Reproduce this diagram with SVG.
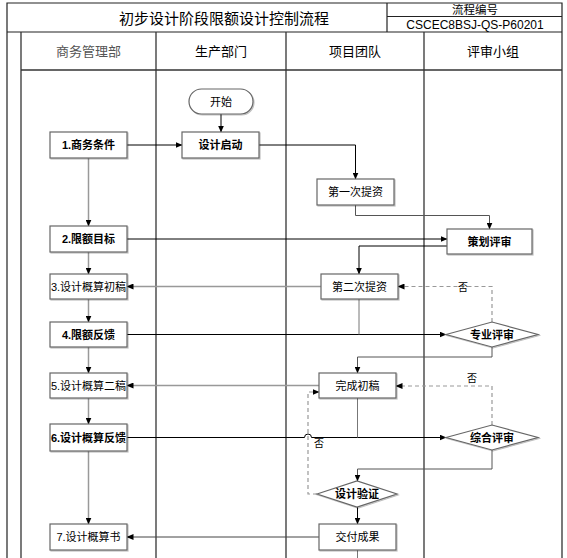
<svg xmlns="http://www.w3.org/2000/svg" width="567" height="558" viewBox="0 0 567 558">
<defs>
<marker id="arr" markerWidth="7" markerHeight="6" refX="6.5" refY="3" orient="auto" markerUnits="userSpaceOnUse">
<path d="M0,0 L7,3 L0,6 z" fill="#000"/>
</marker>
<filter id="sh" x="-10%" y="-10%" width="130%" height="140%">
<feDropShadow dx="1" dy="1" stdDeviation="0.6" flood-color="#000" flood-opacity="0.25"/>
</filter>
</defs>
<style>
text{font-family:"Liberation Sans","Noto Sans CJK SC",sans-serif;fill:#000;text-anchor:middle;dominant-baseline:central}
.frame{stroke:#222;stroke-width:1.2;fill:none}
.lane{stroke:#333;stroke-width:1.3;fill:none}
.box{fill:#fff;stroke:#666;stroke-width:1.2;filter:url(#sh)}
.nt{font-size:11px}
.b{font-weight:bold}
.hd{font-size:13px}
.c{fill:none;stroke:#000;stroke-width:1}
.g{fill:none;stroke:#999;stroke-width:1.5}
.d{fill:none;stroke:#999;stroke-width:1.2;stroke-dasharray:4,3}
.lbl{font-size:10px}
</style>
<rect x="0" y="0" width="567" height="558" fill="#fff"/>
<g id="frame">
<path class="frame" d="M7,560 V3 H562 V560"/>
<line class="frame" x1="7" y1="32" x2="562" y2="32"/>
<line class="frame" x1="387" y1="3" x2="387" y2="32"/>
<line class="frame" x1="387" y1="16.5" x2="562" y2="16.5"/>
<line class="lane" x1="21" y1="32" x2="21" y2="560"/>
<line class="lane" x1="21" y1="70" x2="562" y2="70"/>
<line class="lane" x1="156" y1="32" x2="156" y2="560"/>
<line class="lane" x1="286" y1="32" x2="286" y2="560"/>
<line class="lane" x1="424" y1="32" x2="424" y2="560"/>
<text x="224" y="18.5" style="font-size:15px">初步设计阶段限额设计控制流程</text>
<text x="475" y="9.5" style="font-size:11.5px">流程编号</text>
<text x="475" y="24.5" style="font-size:12px">CSCEC8BSJ-QS-P60201</text>
<text class="hd" x="88.5" y="51" style="fill:#555">商务管理部</text>
<text class="hd" x="221" y="51">生产部门</text>
<text class="hd" x="355" y="51">项目团队</text>
<text class="hd" x="493" y="51">评审小组</text>
</g>
<g id="connectors">
<line class="c" x1="221" y1="114" x2="221" y2="132" marker-end="url(#arr)"/>
<line class="c" x1="127" y1="145" x2="182" y2="145" marker-end="url(#arr)"/>
<path class="c" d="M259,145 H355.5 V179" marker-end="url(#arr)"/>
<line class="g" x1="88.5" y1="158" x2="88.5" y2="226" marker-end="url(#arr)"/>
<path class="c" style="stroke:#555" d="M355.5,205 V215.5 H489.5 V229" marker-end="url(#arr)"/>
<line class="c" x1="127" y1="239" x2="447" y2="239" marker-end="url(#arr)"/>
<path class="c" d="M447,246 H359 V274" marker-end="url(#arr)"/>
<line class="g" x1="321" y1="286.5" x2="127" y2="286.5" marker-end="url(#arr)"/>
<path class="d" d="M492,322 V286.5 H398" marker-end="url(#arr)"/>
<text class="lbl" x="463" y="287">否</text>
<line class="g" x1="88.5" y1="252" x2="88.5" y2="274" marker-end="url(#arr)"/>
<line class="g" x1="88.5" y1="299" x2="88.5" y2="322" marker-end="url(#arr)"/>
<line class="c" x1="127" y1="334.5" x2="446" y2="334.5" marker-end="url(#arr)"/>
<line class="c" style="stroke:#777" x1="359" y1="299" x2="359" y2="334.5"/>
<path class="c" style="stroke:#555" d="M492,347 V357 H357.5 V373" marker-end="url(#arr)"/>
<line class="g" x1="88.5" y1="347" x2="88.5" y2="373" marker-end="url(#arr)"/>
<line class="g" x1="319" y1="385.5" x2="127" y2="385.5" marker-end="url(#arr)"/>
<path class="d" d="M492,425 V386 H396" marker-end="url(#arr)"/>
<text class="lbl" x="472" y="378">否</text>
<line class="g" x1="88.5" y1="398" x2="88.5" y2="424" marker-end="url(#arr)"/>
<path class="c" d="M127,437.5 H304.5 A3.5,3.5 0 0 1 311.5,437.5 H446" marker-end="url(#arr)"/>
<line class="c" style="stroke:#777" x1="357.5" y1="398" x2="357.5" y2="437.5"/>
<path class="c" style="stroke:#555" d="M492,450 V469 H357.5 V481" marker-end="url(#arr)"/>
<path class="d" d="M317,494 H308 V392 H319" marker-end="url(#arr)"/>
<text class="lbl" x="319" y="443">否</text>
<line class="c" x1="357.5" y1="507" x2="357.5" y2="524" marker-end="url(#arr)"/>
<line class="g" x1="88.5" y1="451" x2="88.5" y2="524" marker-end="url(#arr)"/>
<line class="c" style="stroke:#444" x1="319" y1="537" x2="127" y2="537" marker-end="url(#arr)"/>
<line class="c" style="stroke:#777" x1="357.5" y1="550" x2="357.5" y2="560"/>
</g>
<g id="n-start"><rect class="box" x="189" y="89" width="64" height="25" rx="12.5"/><text class="nt" x="221" y="101.5">开始</text></g>
<g id="n-sjqd"><rect class="box" x="182" y="132" width="77" height="26"/><text class="nt b" x="220.5" y="145">设计启动</text></g>
<g id="n-1"><rect class="box" x="50" y="132" width="77" height="26"/><text class="nt b" x="88.5" y="145">1.商务条件</text></g>
<g id="n-2"><rect class="box" x="50" y="226" width="77" height="26"/><text class="nt b" x="88.5" y="239">2.限额目标</text></g>
<g id="n-dyctz"><rect class="box" x="317" y="179" width="77" height="26"/><text class="nt" x="355.5" y="192">第一次提资</text></g>
<g id="n-chps"><rect class="box" x="447" y="229" width="85" height="25"/><text class="nt b" x="489.5" y="241.5">策划评审</text></g>
<g id="n-3"><rect class="box" x="50" y="274" width="77" height="25"/><text class="nt" x="88.5" y="286.5">3.设计概算初稿</text></g>
<g id="n-4"><rect class="box" x="50" y="322" width="77" height="25"/><text class="nt b" x="88.5" y="334.5">4.限额反馈</text></g>
<g id="n-5"><rect class="box" x="50" y="373" width="77" height="25"/><text class="nt" x="88.5" y="385.5">5.设计概算二稿</text></g>
<g id="n-dectz"><rect class="box" x="321" y="274" width="77" height="25"/><text class="nt" x="359.5" y="286.5">第二次提资</text></g>
<g id="n-zyps"><polygon class="box" points="446,334.5 492,322 538,334.5 492,347"/><text class="nt b" x="492" y="334.5">专业评审</text></g>
<g id="n-wccg"><rect class="box" x="319" y="373" width="77" height="25"/><text class="nt" x="357.5" y="385.5">完成初稿</text></g>
<g id="n-6"><rect class="box" x="50" y="424" width="77" height="27"/><text class="nt b" x="88.5" y="437.5">6.设计概算反馈</text></g>
<g id="n-zhps"><polygon class="box" points="446,437.5 492,425 538,437.5 492,450"/><text class="nt b" x="492" y="437.5">综合评审</text></g>
<g id="n-sjyz"><polygon class="box" points="317,494 357,481 397,494 357,507"/><text class="nt b" x="357" y="494">设计验证</text></g>
<g id="n-jfcg"><rect class="box" x="319" y="524" width="77" height="26"/><text class="nt" x="357.5" y="537">交付成果</text></g>
<g id="n-7"><rect class="box" x="50" y="524" width="77" height="26"/><text class="nt" x="88.5" y="537">7.设计概算书</text></g>
</svg>
